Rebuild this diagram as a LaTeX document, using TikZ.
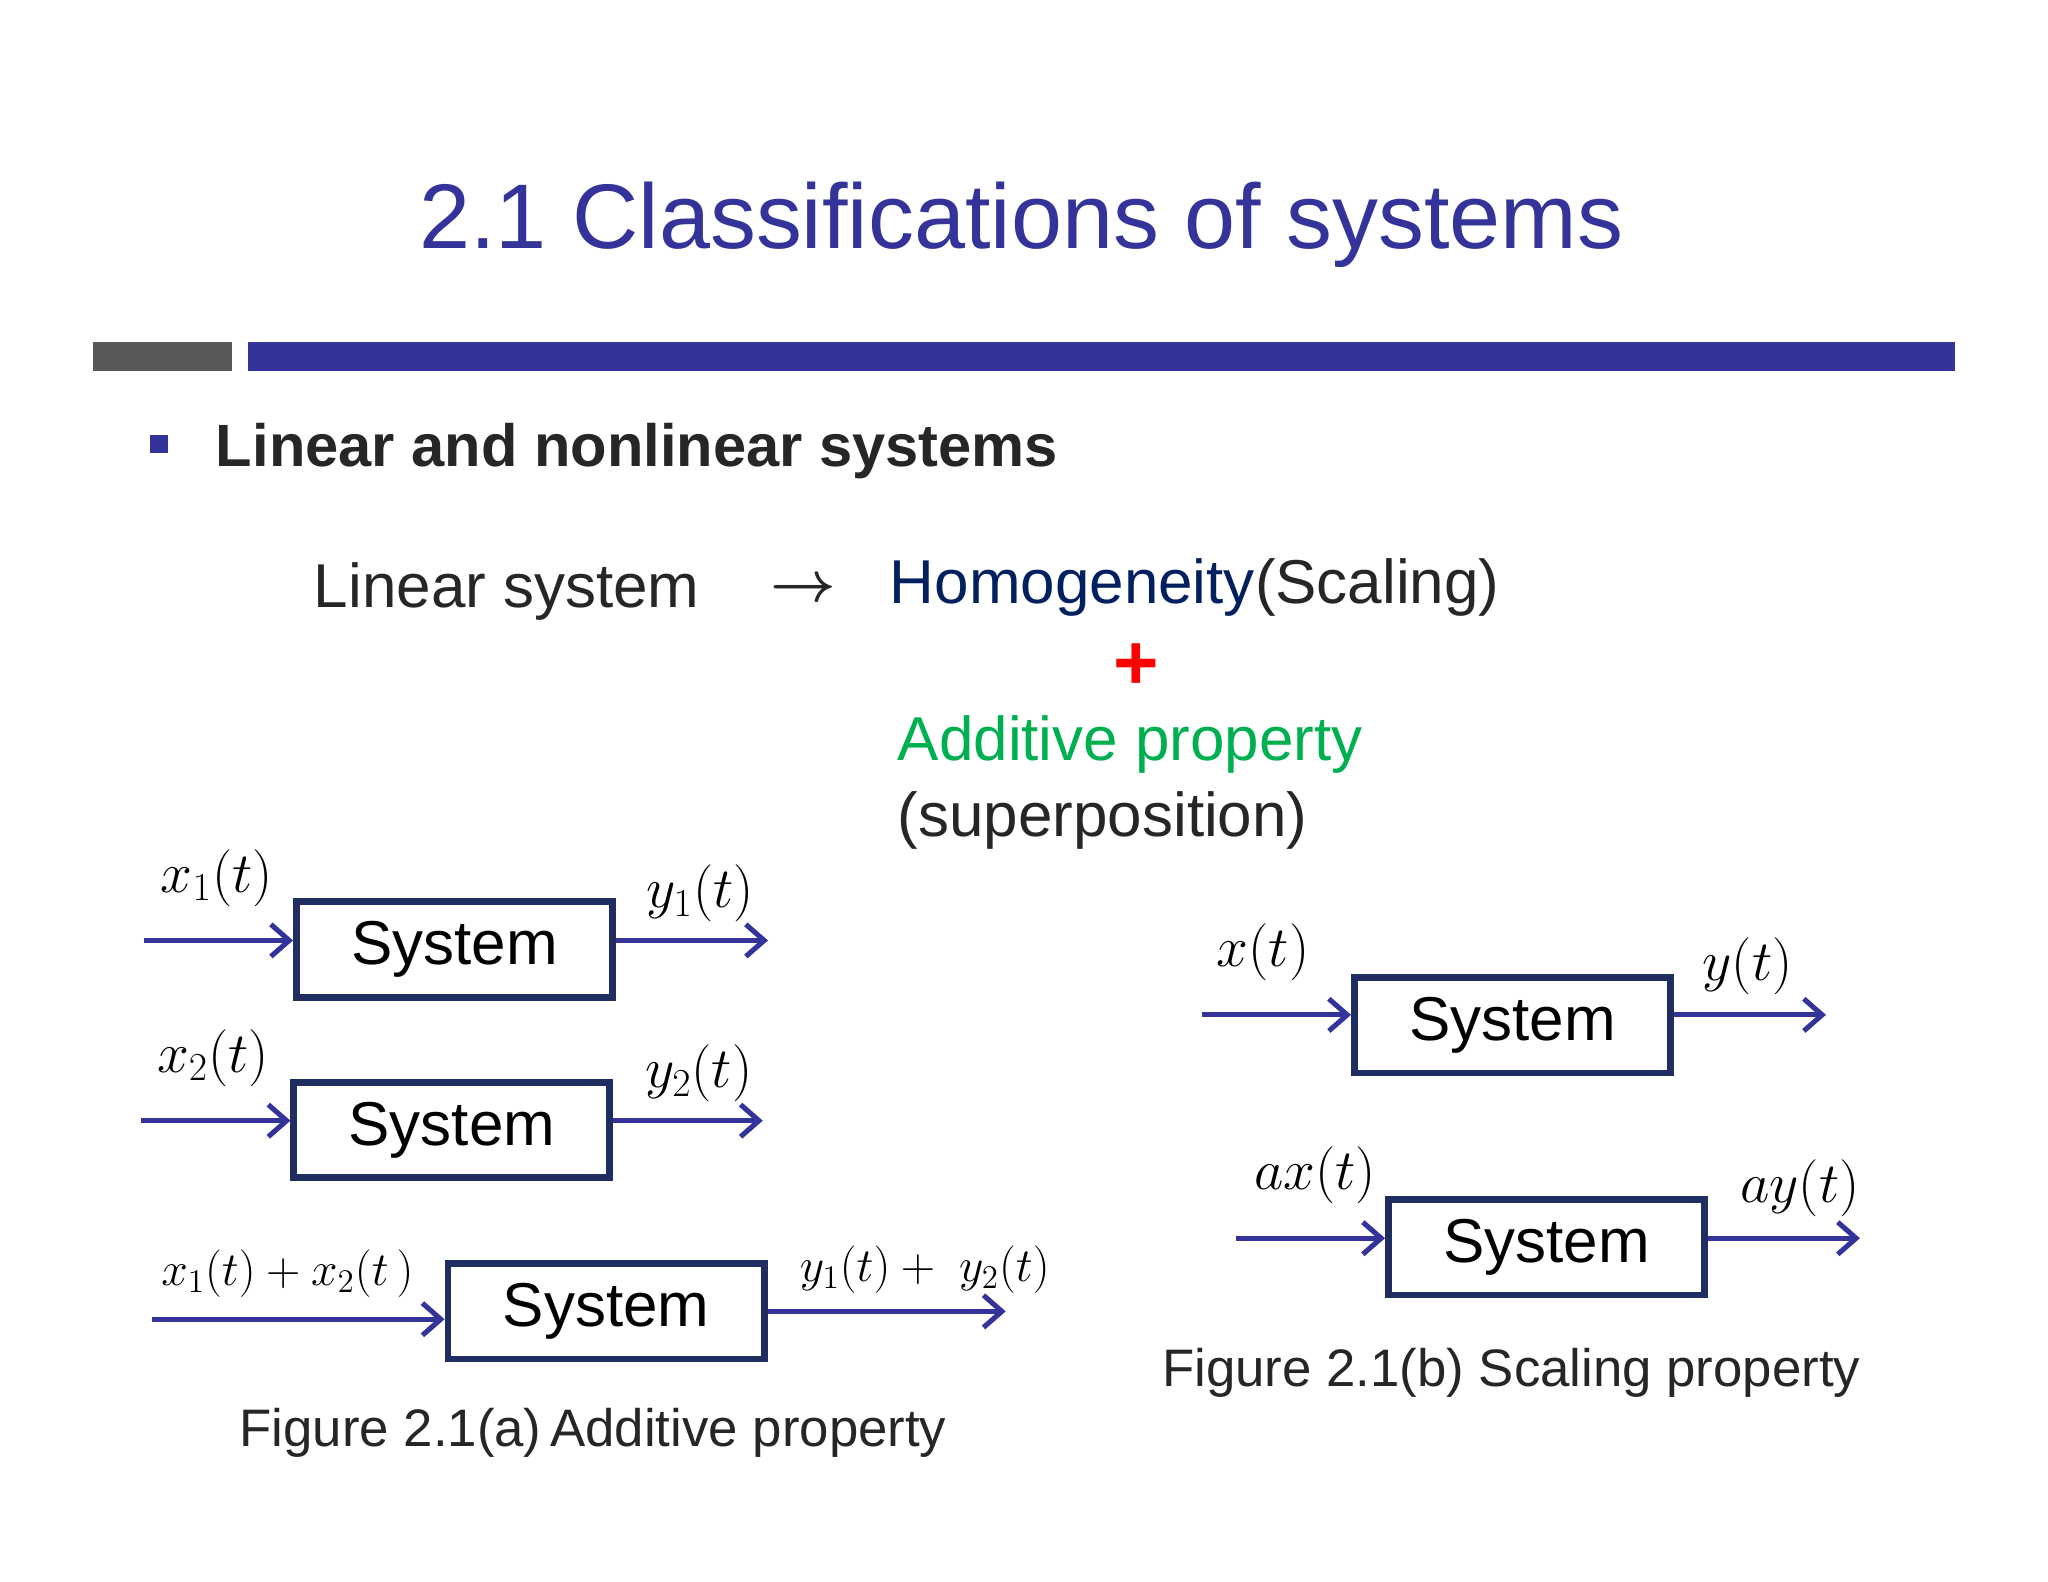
\documentclass[tikz,border=0pt]{standalone}
\usepackage{fontspec}
\setmainfont{Liberation Sans}
\usepackage{amsmath}
\usetikzlibrary{arrows.meta}
\definecolor{tblue}{RGB}{51,51,153}
\definecolor{navy}{RGB}{31,45,96}
\definecolor{hblue}{RGB}{0,32,96}
\definecolor{agreen}{RGB}{0,176,80}
\definecolor{gbar}{RGB}{89,89,89}
\tikzset{
 sysbox/.style={draw=navy,line width=3pt,minimum width=4.84cm,minimum height=1.46cm,inner sep=0pt,font=\fontsize{27}{30}\selectfont},
 sig/.style={draw=tblue,line width=2.2pt,-{Straight Barb[length=8pt,width=14pt,line width=2.2pt]}},
 lab/.style={font=\fontsize{27}{30}\selectfont,inner sep=0pt},
 body/.style={font=\fontsize{27}{30}\selectfont,inner sep=0pt,anchor=west},
}
\begin{document}
\begin{tikzpicture}[x=0.02cm,y=-0.02cm]
\useasboundingbox (0,0) rectangle (1568,1211);
\fill[white] (0,0) rectangle (1568,1211);
\node[text=tblue,font=\fontsize{40}{44}\selectfont,inner sep=0pt] (title) at (782,172) {2.1 Classifications of systems};
\fill[gbar] (71,262) rectangle (178,284);
\fill[tblue] (190,262) rectangle (1497,284);
\fill[tblue] (115,333) rectangle (129,347);
\node[body,font=\fontsize{26}{30}\selectfont\bfseries,text=black!85] (head) at (165,345) {Linear and nonlinear systems};
\node[body,text=black!85] (ls) at (240,453) {Linear system};
\node[inner sep=0pt,font=\fontsize{30}{30}\selectfont\bfseries,text=black!85] (arr) at (615,452) {$\boldsymbol{\rightarrow}$};
\node[body] (hom) at (681,450) {\textcolor{hblue}{Homogeneity}\textcolor{black!85}{(Scaling)}};
\node[inner sep=0pt,text=red,font=\fontsize{34}{34}\selectfont\bfseries] (plus) at (870,510) {+};
\node[body,text=agreen] (add) at (687,570) {Additive property};
\node[body,text=black!85] (sup) at (687,628) {(superposition)};
% boxes
\node[sysbox] (b1) at (348,727) {System};
\node[sysbox] (b2) at (346,865) {System};
\node[sysbox] (b3) at (464,1004) {System};
\node[sysbox] (b4) at (1158,785) {System};
\node[sysbox] (b5) at (1184,955) {System};
\coordinate (i1) at (110,720); \coordinate (o1) at (588,720);
\coordinate (i2) at (108,858); \coordinate (o2) at (584,858);
\coordinate (i3) at (116,1010); \coordinate (o3) at (770,1004);
\coordinate (i4) at (920,777); \coordinate (o4) at (1398,777);
\coordinate (i5) at (946,948); \coordinate (o5) at (1424,948);
\draw[sig] (i1) -- (i1 -| b1.west);
\draw[sig] (b1.east |- o1) -- (o1);
\draw[sig] (i2) -- (i2 -| b2.west);
\draw[sig] (b2.east |- o2) -- (o2);
\draw[sig] (i3) -- (i3 -| b3.west);
\draw[sig] (b3.east |- o3) -- (o3);
\draw[sig] (i4) -- (i4 -| b4.west);
\draw[sig] (b4.east |- o4) -- (o4);
\draw[sig] (i5) -- (i5 -| b5.west);
\draw[sig] (b5.east |- o5) -- (o5);
% labels
\node[lab] (lx1) at (166,672) {$x_1(t)$};
\node[lab] (ly1) at (536,684) {$y_1(t)$};
\node[lab] (lx2) at (163,810) {$x_2(t)$};
\node[lab] (ly2) at (535,822) {$y_2(t)$};
\node[lab,font=\fontsize{21}{24}\selectfont] (lx3) at (220,975) {$x_1(t)+x_2(t\,)$};
\node[lab,font=\fontsize{21}{24}\selectfont] (ly3) at (708,972) {$y_1(t)+\;y_2(t)$};
\node[lab] (lx4) at (967,729) {$x(t)$};
\node[lab] (ly4) at (1338,740) {$y(t)$};
\node[lab] (lx5) at (1007,900) {$ax(t)$};
\node[lab] (ly5) at (1378,910) {$ay(t)$};
\node[lab,font=\fontsize{23}{26}\selectfont,text=black!85] (capa) at (454,1097) {Figure 2.1(a)\,Additive property};
\node[lab,font=\fontsize{23}{26}\selectfont,text=black!85] (capb) at (1157,1051) {Figure 2.1(b) Scaling property};
\end{tikzpicture}
\end{document}
